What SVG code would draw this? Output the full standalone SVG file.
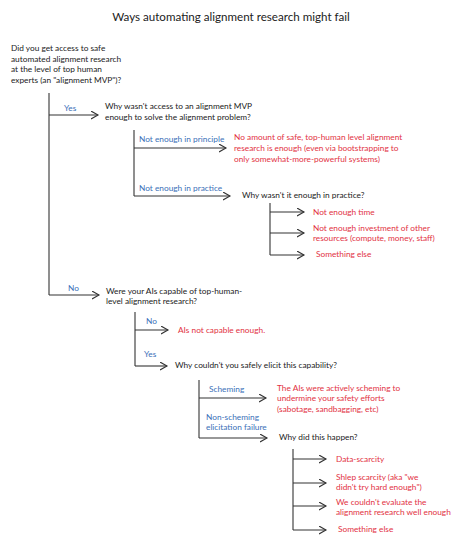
<svg xmlns="http://www.w3.org/2000/svg" width="474" height="550" viewBox="0 0 474 550">
<defs>
<marker id="ah" markerWidth="10" markerHeight="10" refX="7" refY="4" orient="auto" markerUnits="userSpaceOnUse">
<path d="M0,0 L7,4 L0,8" fill="none" stroke="#333" stroke-width="1.1"/>
</marker>
<style>
text{font-family:Lato,"Noto Sans",sans-serif;font-size:8.3px}
.t{font-size:11.6px;fill:#222}
.q{fill:#222}
.b{fill:#3a70b8}
.r{fill:#e2323f}
.ln{fill:none;stroke:#333;stroke-width:1.1}
.ar{fill:none;stroke:#333;stroke-width:1.1;marker-end:url(#ah)}
</style>
</defs>
<rect width="474" height="550" fill="#fff"/>
<text class="t" x="231" y="21" text-anchor="middle">Ways automating alignment research might fail</text>
<g id="connectors">
<path class="ln" d="M49,93 V295"/>
<path class="ar" d="M49,115 H98"/>
<path class="ar" d="M49,295 H99"/>
<path class="ln" d="M134,130 V196"/>
<path class="ar" d="M134,148 H226"/>
<path class="ar" d="M134,196 H230"/>
<path class="ln" d="M270,203 V255"/>
<path class="ar" d="M270,212 H304"/>
<path class="ar" d="M270,233 H304"/>
<path class="ar" d="M270,255 H304"/>
<path class="ln" d="M135,312 V366"/>
<path class="ar" d="M135,330 H168"/>
<path class="ar" d="M135,366 H167"/>
<path class="ln" d="M199,380 V438"/>
<path class="ar" d="M199,398 H266"/>
<path class="ar" d="M199,438 H267"/>
<path class="ln" d="M293,449 V530"/>
<path class="ar" d="M293,459 H326"/>
<path class="ar" d="M293,483 H326"/>
<path class="ar" d="M293,506 H326"/>
<path class="ar" d="M293,530 H326"/>
</g>
<g id="edge-labels">
<text class="b" x="64" y="111">Yes</text>
<text class="b" x="68" y="291">No</text>
<text class="b" x="139" y="142">Not enough in principle</text>
<text class="b" x="139" y="191">Not enough in practice</text>
<text class="b" x="146" y="324">No</text>
<text class="b" x="144" y="357">Yes</text>
<text class="b" x="209" y="392">Scheming</text>
<text class="b" x="206" y="420">Non-scheming</text>
<text class="b" x="206" y="430">elicitation failure</text>
</g>
<g id="q1"><text class="q" x="11" y="51">Did you get access to safe</text><text class="q" x="11" y="62">automated alignment research</text><text class="q" x="11" y="72">at the level of top human</text><text class="q" x="11" y="83">experts (an "alignment MVP")?</text></g>
<g id="q2"><text class="q" x="105" y="109">Why wasn't access to an alignment MVP</text><text class="q" x="105" y="120">enough to solve the alignment problem?</text></g>
<g id="r-principle"><text class="r" x="234" y="140">No amount of safe, top-human level alignment</text><text class="r" x="234" y="151">research is enough (even via bootstrapping to</text><text class="r" x="234" y="162">only somewhat-more-powerful systems)</text></g>
<g id="q-practice"><text class="q" x="242" y="198">Why wasn't it enough in practice?</text></g>
<g id="r-time"><text class="r" x="313" y="215">Not enough time</text></g>
<g id="r-invest"><text class="r" x="313" y="231">Not enough investment of other</text><text class="r" x="313" y="241">resources (compute, money, staff)</text></g>
<g id="r-else1"><text class="r" x="316" y="257">Something else</text></g>
<g id="q3"><text class="q" x="106" y="294">Were your AIs capable of top-human-</text><text class="q" x="106" y="304">level alignment research?</text></g>
<g id="r-notcapable"><text class="r" x="178" y="333">AIs not capable enough.</text></g>
<g id="q-elicit"><text class="q" x="175" y="368">Why couldn't you safely elicit this capability?</text></g>
<g id="r-scheming"><text class="r" x="277" y="391">The AIs were actively scheming to</text><text class="r" x="277" y="401">undermine your safety efforts</text><text class="r" x="277" y="412">(sabotage, sandbagging, etc)</text></g>
<g id="q-why"><text class="q" x="279" y="440">Why did this happen?</text></g>
<g id="r-data"><text class="r" x="336" y="462">Data-scarcity</text></g>
<g id="r-shlep"><text class="r" x="336" y="480">Shlep scarcity (aka "we</text><text class="r" x="336" y="490">didn't try hard enough")</text></g>
<g id="r-eval"><text class="r" x="336" y="505">We couldn't evaluate the</text><text class="r" x="336" y="515">alignment research well enough</text></g>
<g id="r-else2"><text class="r" x="338" y="532">Something else</text></g>
</svg>
